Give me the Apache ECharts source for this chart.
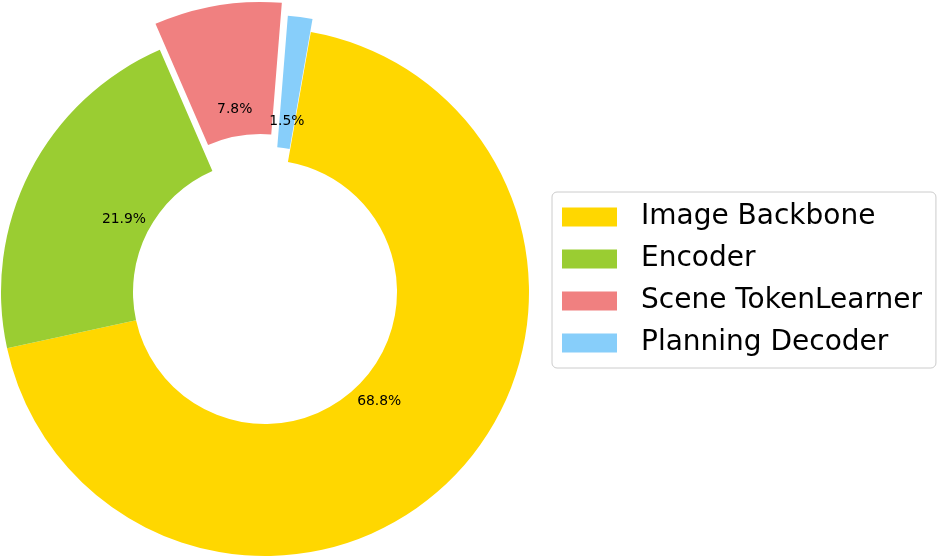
<!DOCTYPE html>
<html lang="en">
<head>
    <meta charset="UTF-8">
    <title>Module share</title>
    <script src="https://cdn.jsdelivr.net/npm/echarts@6/dist/echarts.min.js"></script>
    <style>
        html, body { margin: 0; padding: 0; background: #fff; }
        #main { width: 938px; height: 557px; }
    </style>
</head>
<body>
<div id="main"></div>
<script>
    var modules = ['Image Backbone', 'Encoder', 'Scene TokenLearner', 'Planning Decoder'];
    var shares = [68.8, 21.9, 7.8, 1.5];
    var colors = ['#FFD700', '#9ACD32', '#F08080', '#87CEFA'];
    var explode = [0, 0, 0.1, 0.05];   // fraction of the outer radius

    var R = 264, R0 = 132;
    var center = [265, 292];
    var pctDist = 0.6;
    var clear = 'rgba(0,0,0,0)';

    // one ring series + one label series for each explode value
    var groups = [];
    explode.forEach(function (e) {
        if (groups.indexOf(e) < 0) groups.push(e);
    });

    function makePie(grp, forLabels) {
        var data = modules.map(function (name, i) {
            var mine = explode[i] === grp;
            return {
                name: name,
                value: shares[i],
                selected: mine && grp > 0,
                itemStyle: { color: (mine && !forLabels) ? colors[i] : clear },
                label: { show: mine && forLabels }
            };
        });
        return {
            type: 'pie',
            center: center,
            // inside labels sit at r/2 + 3 when r0 = 0
            radius: forLabels ? [0, 2 * (pctDist * R - 3)] : [R0, R],
            startAngle: 80,
            clockwise: true,
            silent: true,
            selectedMode: 'multiple',
            selectedOffset: grp * R,
            avoidLabelOverlap: false,
            label: {
                position: 'inside',
                fontFamily: 'DejaVu Sans',
                fontSize: 13.9,
                color: '#000',
                textBorderWidth: 0,
                formatter: function (p) { return p.value.toFixed(1) + '%'; }
            },
            labelLine: { show: false },
            emphasis: { disabled: true },
            data: data
        };
    }

    var series = [];
    groups.forEach(function (g) { series.push(makePie(g, false)); });
    groups.forEach(function (g) { series.push(makePie(g, true)); });

    var chart = echarts.init(document.getElementById('main'));
    chart.setOption({
        animation: false,
        backgroundColor: '#fff',
        legend: {
            orient: 'vertical',
            left: 552,
            top: 192,
            data: modules.map(function (n, i) {
                return { name: n, itemStyle: { color: colors[i] } };
            }),
            icon: 'rect',
            itemWidth: 55,
            itemHeight: 19,
            itemGap: 12,
            padding: [10, 14, 10, 10],
            borderColor: '#cccccc',
            borderWidth: 1,
            borderRadius: 5,
            backgroundColor: '#fff',
            selectedMode: false,
            textStyle: {
                fontFamily: 'DejaVu Sans',
                fontSize: 28,
                color: '#000',
                lineHeight: 30,
                padding: [0, 0, 0, 19]
            }
        },
        series: series
    });
</script>
</body>
</html>
